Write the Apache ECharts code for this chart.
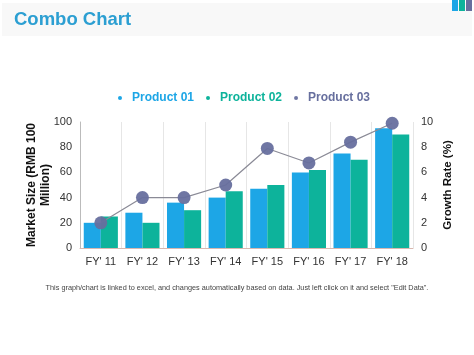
<!DOCTYPE html>
<html><head><meta charset="utf-8">
<script src="https://cdn.jsdelivr.net/npm/echarts@6/dist/echarts.min.js"></script>
<style>html,body{margin:0;padding:0;background:#fff}#c{width:474px;height:355px}</style>
</head><body><div id="c"></div>
<script>
const categories = ["FY' 11","FY' 12","FY' 13","FY' 14","FY' 15","FY' 16","FY' 17","FY' 18"];
const product01 = [20, 28, 36, 40, 47, 60, 75, 95];
const product02 = [25, 20, 30, 45, 50, 62, 70, 90];
const product03 = [2, 4, 4, 5, 7.9, 6.75, 8.4, 9.9];
const c1 = '#1DA6E6', c2 = '#0DB39B', c3 = '#676F9E';
const chart = echarts.init(document.getElementById('c'));
chart.setOption({
  animation: false,
  graphic: [
    {type:'rect', left:2, top:3, shape:{width:470, height:33}, style:{fill:'#F8F8F8'}},
    {type:'text', left:14, top:10, style:{text:'Combo Chart', font:'bold 18.5px Arial, Liberation Sans', fill:'#2C9FD2'}},
    {type:'rect', left:452, top:0, shape:{width:6, height:11}, style:{fill:c1}},
    {type:'rect', left:459, top:0, shape:{width:6, height:11}, style:{fill:c2}},
    {type:'rect', left:466, top:0, shape:{width:6, height:11}, style:{fill:c3}},
    {type:'text', left:'center', top:284, style:{text:'This graph/chart is linked to excel, and changes automatically based on data. Just left click on it and select "Edit Data".', font:'7.3px Arial, Liberation Sans', fill:'#444'}}
  ],
  legend: {
    top: 87, left: 113, itemGap: 12,
    itemWidth: 4, itemHeight: 4, icon: 'circle',
    textStyle: {fontWeight:'bold', fontSize:12, fontFamily:'Arial, Liberation Sans', padding:[0,0,0,5]},
    data: [
      {name:'Product 01', textStyle:{color:c1}},
      {name:'Product 02', textStyle:{color:c2}},
      {name:'Product 03', textStyle:{color:c3}}
    ]
  },
  grid: {left:80, right:61, top:122, bottom:107},
  xAxis: {
    type:'category', data: categories,
    axisLine:{lineStyle:{color:'#D9B8B0', width:1}},
    axisTick:{show:false},
    axisLabel:{color:'#333', fontSize:11, fontFamily:'Arial, Liberation Sans', margin:8},
    splitLine:{show:true, lineStyle:{color:'#E6E6E6'}}
  },
  yAxis: [
    {type:'value', min:0, max:100, interval:20,
     name:'Market Size (RMB 100\nMillion)', nameLocation:'middle', nameGap:27, nameRotate:90, nameMoveOverlap:false,
     nameTextStyle:{fontWeight:'bold', fontSize:12, color:'#111', fontFamily:'Arial, Liberation Sans', lineHeight:14},
     axisLine:{show:true, lineStyle:{color:'#BBBBBB'}}, axisTick:{show:false},
     axisLabel:{color:'#333', fontSize:11, fontFamily:'Arial, Liberation Sans', margin:8},
     splitLine:{show:false}},
    {type:'value', min:0, max:10, interval:2,
     name:'Growth Rate (%)', nameLocation:'middle', nameGap:29, nameRotate:90, nameMoveOverlap:false,
     nameTextStyle:{fontWeight:'bold', fontSize:11.5, color:'#111', fontFamily:'Arial, Liberation Sans'},
     axisLine:{show:false}, axisTick:{show:false},
     axisLabel:{color:'#333', fontSize:11, fontFamily:'Arial, Liberation Sans', margin:8},
     splitLine:{show:false}}
  ],
  series: [
    {name:'Product 01', type:'bar', data:product01, itemStyle:{color:c1}, barGap:'0%', barCategoryGap:'18%'},
    {name:'Product 02', type:'bar', data:product02, itemStyle:{color:c2}},
    {name:'Product 03', type:'line', yAxisIndex:1, data:product03,
     symbol:'circle', symbolSize:13, itemStyle:{color:c3, opacity:0.95},
     lineStyle:{color:'#8A8A96', width:1.2}}
  ]
});
</script></body></html>
